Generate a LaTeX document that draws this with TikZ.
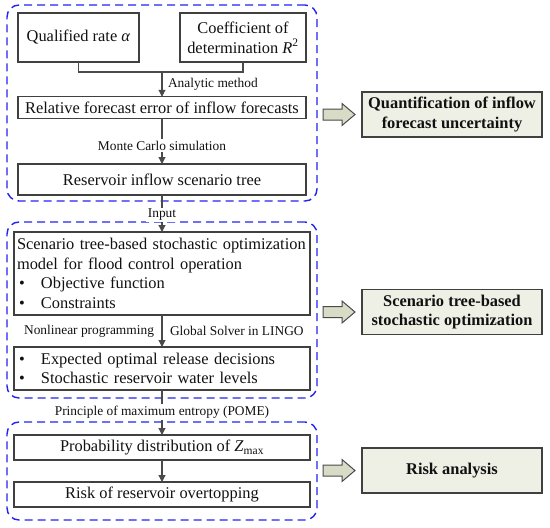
\documentclass[tikz,border=0pt]{standalone}
\usepackage{fontspec}
\setmainfont{Liberation Serif}
\usetikzlibrary{arrows.meta}
\setlength{\parindent}{0pt}
\definecolor{boxline}{HTML}{404040}
\definecolor{connline}{HTML}{4A4A4A}
\definecolor{dashblue}{HTML}{2424F0}
\definecolor{rfill}{HTML}{EEF0E6}
\definecolor{afill}{HTML}{D8DCC6}
\definecolor{txt}{HTML}{111111}
\newcommand\mainsize{\fontsize{16.4pt}{19.7pt}\selectfont}
\newcommand\lblsize{\fontsize{13.4pt}{16pt}\selectfont}
\newcommand\myblockarrow[1]{%
  \begin{scope}[shift={(0,#1)}]
    \draw[barrow] (323,-5.5) -- (342,-5.5) -- (342,-11) -- (355,0) -- (342,11) -- (342,5.5) -- (323,5.5) -- cycle;
  \end{scope}}
\tikzset{
  box/.style={draw=boxline, line width=1.1pt, fill=white, text=txt, font=\mainsize, inner sep=2pt, outer sep=0pt},
  rbox/.style={draw=boxline, line width=1.1pt, fill=rfill, text=txt, font=\mainsize\bfseries, align=center, minimum width=180pt, minimum height=45pt, inner sep=2pt, outer sep=0pt},
  dbox/.style={draw=dashblue, line width=1.4pt, dash pattern=on 8pt off 5pt, rounded corners=12pt, minimum width=310pt, outer sep=0pt},
  conn/.style={draw=connline, line width=1.1pt},
  arr/.style={conn, -{Triangle[width=7pt,length=7pt]}},
  lbl/.style={font=\lblsize, text=txt, inner sep=1.5pt},
  barrow/.style={draw=connline, line width=1pt, fill=afill, line join=miter},
}
\begin{document}
\begin{tikzpicture}[x=1pt,y=-1pt]
\useasboundingbox (0,0) rectangle (550,528);
% dashed frames
\node[dbox, minimum height=196pt] (db1) at (162,103) {};
\node[dbox, minimum height=176pt] (db2) at (162,310) {};
\node[dbox, minimum height=98pt] (db3) at (162,471) {};
% boxes
\node[box, minimum width=121pt, minimum height=49pt] (qr) at (78.5,37.5) {Qualified rate \textit{α}};
\node[box, minimum width=126pt, minimum height=49pt, align=center] (cd) at (243,37.5) {Coefficient of\\determination \textit{R}\textsuperscript{2}};
\node[box, minimum width=288pt, minimum height=21.5pt] (rfe) at (162,107.5) {Relative forecast error of inflow forecasts};
\node[box, minimum width=288pt, minimum height=31pt] (rist) at (162,179.5) {Reservoir inflow scenario tree};
\node[box, minimum width=296pt, minimum height=83pt, text width=290pt, align=left, inner xsep=3pt] (stsom) at (162,273.5) {Scenario tree-based stochastic optimization\\model for flood control operation\\\makebox[24pt][l]{\hspace{2pt}\textbullet}Objective function\\\makebox[24pt][l]{\hspace{2pt}\textbullet}Constraints};
\node[box, minimum width=296pt, minimum height=43pt, text width=290pt, align=left, inner xsep=3pt] (eorl) at (162,368.5) {\makebox[24pt][l]{\hspace{2pt}\textbullet}Expected optimal release decisions\\\makebox[24pt][l]{\hspace{2pt}\textbullet}Stochastic reservoir water levels};
\node[box, minimum width=296pt, minimum height=25pt] (pd) at (162,447.5) {Probability distribution of \textit{Z}\textsubscript{max}};
\node[box, minimum width=296pt, minimum height=25pt] (ro) at (162,494.5) {Risk of reservoir overtopping};
% right boxes
\node[rbox] (q) at (452,114.5) {Quantification of inflow\\forecast uncertainty};
\node[rbox] (s) at (452,312) {Scenario tree-based\\stochastic optimization};
\node[rbox] (r) at (452,470.5) {Risk analysis};
\myblockarrow{114.5}
\myblockarrow{312}
\myblockarrow{470.5}
% connectors
\coordinate (j) at (162,72);
\draw[conn] (qr.south) -- (qr.south |- j) -- (cd.south |- j) -- (cd.south);
\draw[arr] (j) -- (rfe.north) node[midway, right, lbl, xshift=4pt] {Analytic method};
\draw[arr] (rfe.south) -- (rist.north) node[pos=0.6, lbl, fill=white] {Monte Carlo simulation};
\draw[arr] (rist.south) -- (stsom.north) node[pos=0.54, lbl, fill=white] {Input};
\draw[arr] (stsom.south) -- (eorl.north)
  node[midway, left, lbl, xshift=-6pt] {Nonlinear programming}
  node[midway, right, lbl, xshift=6pt] {Global Solver in LINGO};
\draw[arr] (eorl.south) -- (pd.north) node[pos=0.49, lbl, fill=white] {Principle of maximum entropy (POME)};
\draw[arr] (pd.south) -- (ro.north);
\end{tikzpicture}
\end{document}
